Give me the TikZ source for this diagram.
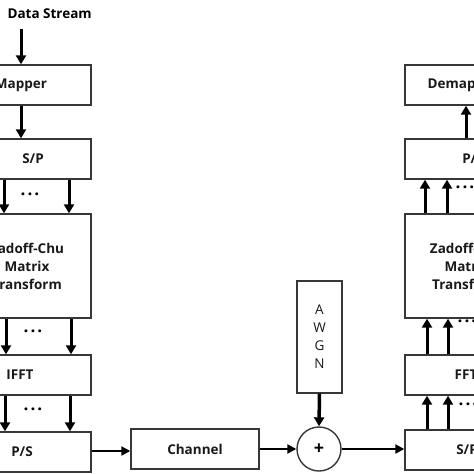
\documentclass[tikz,border=0pt]{standalone}
\usepackage{fontspec}
\setmainfont{Open Sans}
\usetikzlibrary{arrows.meta}
\usetikzlibrary{positioning}
\definecolor{boxgray}{RGB}{55,55,55}
\tikzset{
    block/.style={draw=boxgray, line width=1.4pt, rectangle, minimum height=40pt,
        inner sep=0pt, text=black!90, font=\bfseries\fontsize{13.5}{18}\selectfont},
    adder/.style={draw=boxgray, line width=1.4pt, circle, minimum size=44pt,
        inner sep=0pt, font=\bfseries\fontsize{18}{18}\selectfont},
    flow/.style={draw=black, line width=3pt, -{Triangle[length=9pt,width=10pt]}},
    hflow/.style={draw=black, line width=2.2pt, -{Triangle[length=9pt,width=9pt]}},
    dots/.style={font=\bfseries\fontsize{17}{17}\selectfont},
}

\begin{document}
\begin{tikzpicture}[x=1pt, y=-1pt]
	\useasboundingbox (0,0) rectangle (474,474);
	\clip (0,0) rectangle (474,474);
	% transmitter
	\node[anchor=west, font=\bfseries\fontsize{13.5}{15}\selectfont] (src) at (4,14) {Data Stream};
	\coordinate (din) at (21,29);
	\node[block, minimum width=140pt] (mapper) at (21,85) {Mapper};
	\node[block, minimum width=116pt] (sp) at (33,159) {S/P};
	\node[block, minimum width=128pt, minimum height=104pt, align=center] (zc) at (27,266) {Zadoff-Chu\\Matrix\\Transform};
	\node[block, minimum width=142pt] (ifft) at (20,375) {IFFT};
	\node[block, minimum width=138pt] (ps) at (22,452) {P/S};
	% channel
	\node[block, minimum width=128pt] (channel) at (195,449) {Channel};
	\node[adder] (plus) at (319,449) {+};
	\node[block, minimum width=45pt, minimum height=112pt, align=center,
		font=\fontsize{13.5}{18}\selectfont] (awgn) at (319.5,337) {A\\W\\G\\N};
	% receiver
	\node[block, minimum width=124pt] (spr) at (467,450) {S/P};
	\node[block, minimum width=122pt] (fft) at (466,375) {FFT};
	\node[block, minimum width=124pt, minimum height=104pt, align=center] (zcr) at (467,266) {Zadoff-Chu\\Matrix\\Transform};
	\node[block, minimum width=136pt] (psr) at (473,159) {P/S};
	\node[block, minimum width=116pt] (demap) at (463,85) {Demapper};

	\draw[flow] (din) -- (din |- mapper.north);
	\draw[flow] (mapper.south) -- (mapper.south |- sp.north);
	\draw[flow] ([xshift=-29pt]sp.south) -- ([xshift=-29pt]sp.south |- zc.north);
	\draw[flow] ([xshift=36pt]sp.south) -- ([xshift=36pt]sp.south |- zc.north);
	\node[dots] (d1) at (30,194) {.\hspace{2pt}.\hspace{2pt}.};
	\draw[flow] ([xshift=-21pt]zc.south) -- ([xshift=-21pt]zc.south |- ifft.north);
	\draw[flow] ([xshift=44pt]zc.south) -- ([xshift=44pt]zc.south |- ifft.north);
	\node[dots] (d2) at (33,331) {.\hspace{2pt}.\hspace{2pt}.};
	\draw[flow] ([xshift=-15pt]ifft.south) -- ([xshift=-15pt]ifft.south |- ps.north);
	\draw[flow] ([xshift=50pt]ifft.south) -- ([xshift=50pt]ifft.south |- ps.north);
	\node[dots] (d3) at (33,409) {.\hspace{2pt}.\hspace{2pt}.};

	\draw[hflow] ([yshift=1pt]ps.east) -- ([yshift=1pt]ps.east -| channel.west);
	\draw[hflow] (channel.east) -- (plus.west);
	\draw[flow, line width=3.5pt] (awgn.south) -- (plus.north);
	\draw[hflow] (plus.east) -- (plus.east -| spr.west);

	\draw[flow] ([xshift=-40pt]spr.north) -- ([xshift=-40pt]spr.north |- fft.south);
	\draw[flow] ([xshift=-19pt]spr.north) -- ([xshift=-19pt]spr.north |- fft.south);
	\node[dots] (d4) at (468,404) {.\hspace{2pt}.\hspace{2pt}.};
	\draw[flow] ([xshift=-39pt]fft.north) -- ([xshift=-39pt]fft.north |- zcr.south);
	\draw[flow] ([xshift=-18pt]fft.north) -- ([xshift=-18pt]fft.north |- zcr.south);
	\node[dots] (d5) at (467,321) {.\hspace{2pt}.\hspace{2pt}.};
	\draw[flow] ([xshift=-42pt]zcr.north) -- ([xshift=-42pt]zcr.north |- psr.south);
	\draw[flow] ([xshift=-20pt]zcr.north) -- ([xshift=-20pt]zcr.north |- psr.south);
	\node[dots] (d6) at (465,187) {.\hspace{2pt}.\hspace{2pt}.};
	\draw[flow] ([xshift=-7pt]psr.north) -- ([xshift=-7pt]psr.north |- demap.south);
\end{tikzpicture}
\end{document}
